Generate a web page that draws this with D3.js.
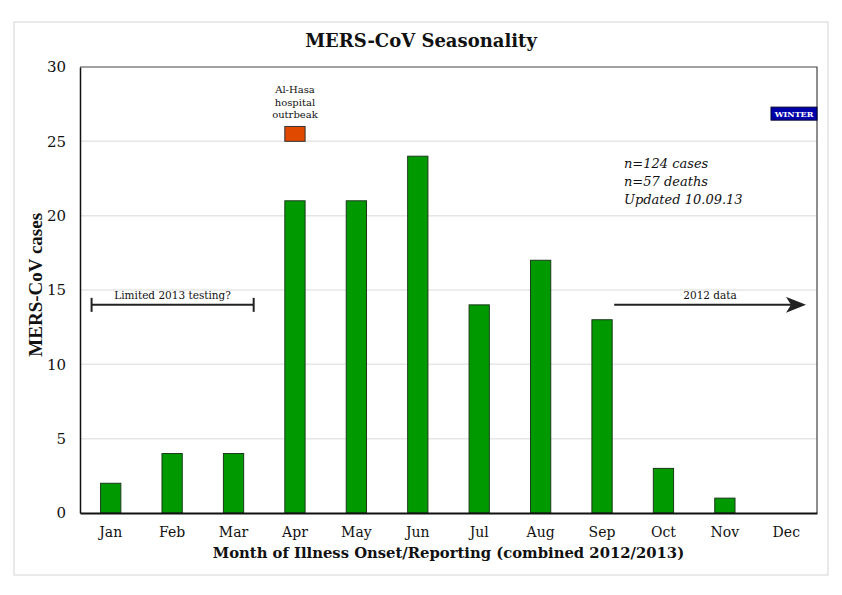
<!DOCTYPE html>
<html lang="en">
<head>
<meta charset="UTF-8">
<title>MERS-CoV Seasonality</title>
<script src="https://d3js.org/d3.v7.min.js"></script>
<style>
    body { margin: 0; background: #fff; }
    text { font-family: "DejaVu Serif", Georgia, serif; fill: #111; }
</style>
</head>
<body>
<script>
// Data
const months = ["Jan", "Feb", "Mar", "Apr", "May", "Jun", "Jul", "Aug", "Sep", "Oct", "Nov", "Dec"];
const cases = [2, 4, 4, 21, 21, 24, 14, 17, 13, 3, 1, 0];
const yTicks = [0, 5, 10, 15, 20, 25, 30];
const noteLines = ["n=124 cases", "n=57 deaths", "Updated 10.09.13"];
const outbreakLines = ["Al-Hasa", "hospital", "outrbeak"];

const W = 842, H = 595;
const margin = { top: 67, right: 25, bottom: 82, left: 80 };
const width = W - margin.left - margin.right;
const height = H - margin.top - margin.bottom;

const root = d3.select("body").append("svg")
    .attr("width", W)
    .attr("height", H);

// outer frame
root.append("rect")
    .attr("x", 14).attr("y", 22)
    .attr("width", 814).attr("height", 553)
    .attr("fill", "none")
    .attr("stroke", "#e2e2e2")
    .attr("stroke-width", 1.5);

const svg = root.append("g")
    .attr("transform", `translate(${margin.left},${margin.top})`);

// Scales
const x = d3.scaleBand()
    .domain(months)
    .range([0, width])
    .paddingInner(0.67)
    .paddingOuter(0.335);

const y = d3.scaleLinear()
    .domain([0, 30])
    .range([height, 0]);

// Gridlines
svg.append("g")
    .selectAll("line")
    .data(yTicks.filter(d => d > 0 && d < 30))
    .enter()
    .append("line")
    .attr("x1", 0).attr("x2", width)
    .attr("y1", d => y(d)).attr("y2", d => y(d))
    .attr("stroke", "#e6e6e6")
    .attr("stroke-width", 1.5);

// top/right frame
svg.append("path")
    .attr("d", `M0,0H${width}V${height}`)
    .attr("fill", "none")
    .attr("stroke", "#444")
    .attr("stroke-width", 1.2);

// Bars
svg.selectAll(".bar")
    .data(cases.map((v, i) => ({ month: months[i], value: v })).filter(d => d.value > 0))
    .enter()
    .append("rect")
    .attr("class", "bar")
    .attr("x", d => x(d.month))
    .attr("y", d => y(d.value))
    .attr("width", x.bandwidth())
    .attr("height", d => height - y(d.value))
    .attr("fill", "#009900")
    .attr("stroke", "#1a3a1a")
    .attr("stroke-width", 1);

// Axes
const yAxis = svg.append("g")
    .call(d3.axisLeft(y).tickValues(yTicks).tickSize(0).tickPadding(14));
yAxis.select(".domain").attr("stroke", "#111").attr("stroke-width", 1.5);
yAxis.selectAll("text").style("font-size", "15px").attr("fill", "#111");

const xAxis = svg.append("g")
    .attr("transform", `translate(0,${height})`)
    .call(d3.axisBottom(x).tickSize(0).tickPadding(14));
xAxis.select(".domain").attr("stroke", "#111").attr("stroke-width", 2);
xAxis.selectAll("text").style("font-size", "14px").attr("fill", "#111");

// Title
root.append("text")
    .attr("x", 421).attr("y", 47)
    .attr("text-anchor", "middle")
    .style("font-size", "18px")
    .style("font-weight", "bold")
    .text("MERS-CoV Seasonality");

// Axis labels
svg.append("text")
    .attr("x", width / 2)
    .attr("y", height + 45)
    .attr("text-anchor", "middle")
    .style("font-size", "14.8px")
    .style("font-weight", "bold")
    .text("Month of Illness Onset/Reporting (combined 2012/2013)");

svg.append("text")
    .attr("transform", "rotate(-90)")
    .attr("x", -y(15.35))
    .attr("y", -38)
    .attr("text-anchor", "middle")
    .style("font-family", "'Liberation Serif', serif")
    .style("font-size", "19px")
    .style("font-weight", "bold")
    .text("MERS-CoV cases");

// Annotation: limited testing bracket
const bx1 = x("Jan") - 9, bx2 = x("Mar") + x.bandwidth() + 10;
svg.append("line")
    .attr("x1", bx1).attr("x2", bx2)
    .attr("y1", y(14)).attr("y2", y(14))
    .attr("stroke", "#222").attr("stroke-width", 2);
[bx1, bx2].forEach(bx => {
    svg.append("line")
        .attr("x1", bx).attr("x2", bx)
        .attr("y1", y(14) - 7).attr("y2", y(14) + 7)
        .attr("stroke", "#222").attr("stroke-width", 2);
});
svg.append("text")
    .attr("x", (bx1 + bx2) / 2).attr("y", y(14) - 6)
    .attr("text-anchor", "middle")
    .style("font-size", "10.5px")
    .text("Limited 2013 testing?");

// Annotation: 2012 data arrow
root.append("defs").append("marker")
    .attr("id", "arrow")
    .attr("viewBox", "0 0 20 16")
    .attr("refX", 20).attr("refY", 8)
    .attr("markerWidth", 20).attr("markerHeight", 16)
    .attr("markerUnits", "userSpaceOnUse")
    .attr("orient", "auto")
    .append("path")
    .attr("d", "M0,0L20,8L0,16L5,8Z")
    .attr("fill", "#222");

const ax1 = x("Sep") + x.bandwidth() + 2, ax2 = width - 11;
svg.append("line")
    .attr("x1", ax1).attr("x2", ax2 - 4)
    .attr("y1", y(14)).attr("y2", y(14))
    .attr("stroke", "#222").attr("stroke-width", 2);
svg.append("line")
    .attr("x1", ax2 - 20).attr("x2", ax2)
    .attr("y1", y(14)).attr("y2", y(14))
    .attr("stroke", "none")
    .attr("marker-end", "url(#arrow)");
svg.append("text")
    .attr("x", (ax1 + ax2) / 2).attr("y", y(14) - 6)
    .attr("text-anchor", "middle")
    .style("font-size", "10.5px")
    .text("2012 data");

// Annotation: Al-Hasa outbreak
svg.append("rect")
    .attr("x", x("Apr"))
    .attr("y", y(26))
    .attr("width", x.bandwidth())
    .attr("height", y(25) - y(26))
    .attr("fill", "#e04a00")
    .attr("stroke", "#333");
svg.selectAll(".outbreak")
    .data(outbreakLines)
    .enter()
    .append("text")
    .attr("class", "outbreak")
    .attr("x", x("Apr") + x.bandwidth() / 2)
    .attr("y", (d, i) => y(26) - 33 + i * 12.5)
    .attr("text-anchor", "middle")
    .style("font-size", "10px")
    .text(d => d);

// Winter label
const wg = svg.append("g")
    .attr("transform", `translate(${width - 46},${y(27.3)})`);
wg.append("rect")
    .attr("width", 46).attr("height", 13)
    .attr("fill", "#0000aa")
    .attr("stroke", "#000033");
wg.append("text")
    .attr("x", 23).attr("y", 10)
    .attr("text-anchor", "middle")
    .style("font-size", "8px")
    .style("font-weight", "bold")
    .style("fill", "#fff")
    .text("WINTER");

// Notes
svg.selectAll(".note")
    .data(noteLines)
    .enter()
    .append("text")
    .attr("class", "note")
    .attr("x", 544)
    .attr("y", (d, i) => y(23.2) + i * 18)
    .style("font-size", "13px")
    .style("font-style", "italic")
    .text(d => d);
</script>
</body>
</html>
